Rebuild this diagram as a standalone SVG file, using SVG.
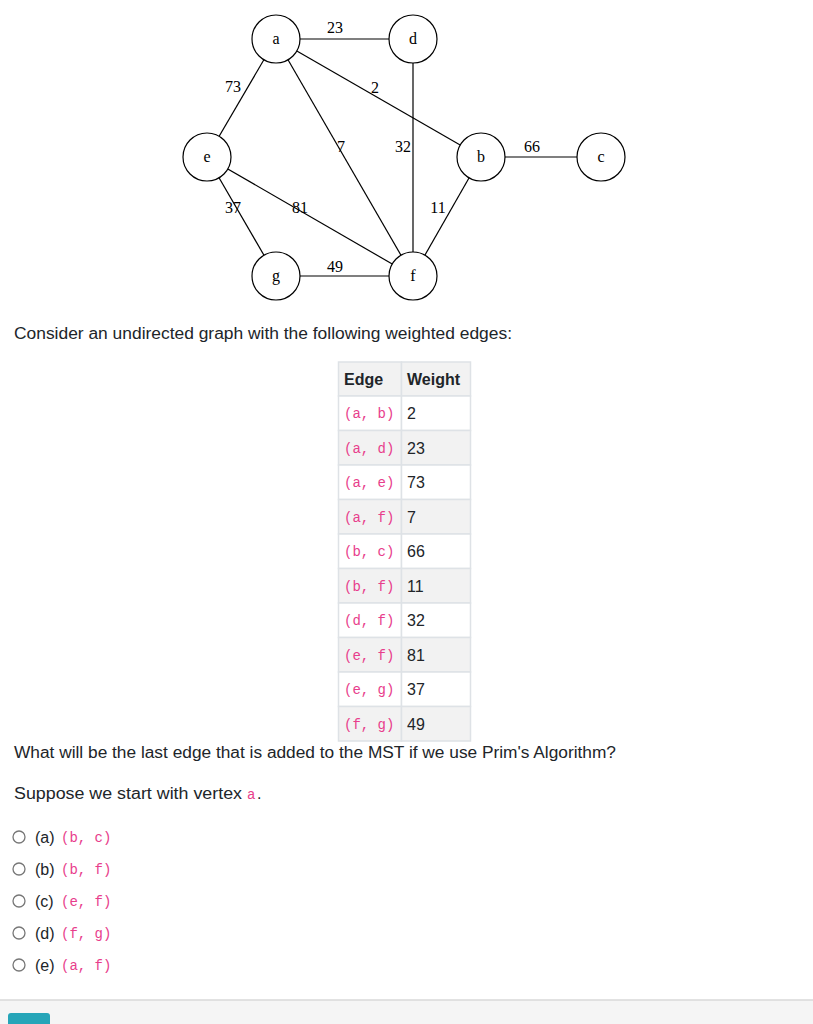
<svg xmlns="http://www.w3.org/2000/svg" width="813" height="1024" viewBox="0 0 813 1024">
<style>
.node circle{fill:#fff;stroke:#000;stroke-width:1.2}
.node text{font-family:"Liberation Serif",serif;font-size:16px;text-anchor:middle}
.edges line{stroke:#000;stroke-width:1.2}
.wl{font-family:"Liberation Serif",serif;font-size:16px;text-anchor:middle}
.body{font-family:"Liberation Sans",Arial,sans-serif;font-size:16px;fill:#212529}
.code{font-family:"Liberation Mono",monospace;font-size:14px;fill:#e83e8c}
.th{font-family:"Liberation Sans",Arial,sans-serif;font-size:16px;font-weight:bold;fill:#212529}
.cell{stroke:#dee2e6;stroke-width:1.5}
.g{fill:#f2f2f2}
.w{fill:#fff}
.radio{fill:#fff;stroke:#777;stroke-width:1.3}
</style>
<rect width="813" height="1024" fill="#fff"/>
<g class="edges">
<line x1="276" y1="39" x2="413" y2="39"/>
<line x1="276" y1="39" x2="207" y2="157"/>
<line x1="276" y1="39" x2="481" y2="157"/>
<line x1="276" y1="39" x2="413" y2="276"/>
<line x1="413" y1="63" x2="413" y2="252"/>
<line x1="207" y1="157" x2="413" y2="276"/>
<line x1="207" y1="157" x2="276" y2="276"/>
<line x1="276" y1="276" x2="413" y2="276"/>
<line x1="481" y1="157" x2="413" y2="276"/>
<line x1="481" y1="157" x2="601" y2="157"/>
</g>
<g class="wl">
<text x="335" y="33">23</text>
<text x="233" y="92">73</text>
<text x="375" y="93">2</text>
<text x="341" y="152">7</text>
<text x="403" y="152">32</text>
<text x="532" y="152">66</text>
<text x="233" y="213">37</text>
<text x="300" y="213">81</text>
<text x="438" y="213">11</text>
<text x="335" y="272">49</text>
</g>
<g id="node-a" class="node"><circle cx="276" cy="39" r="24"/><text x="276" y="44">a</text></g>
<g id="node-d" class="node"><circle cx="413" cy="39" r="24"/><text x="413" y="44">d</text></g>
<g id="node-e" class="node"><circle cx="207" cy="157" r="24"/><text x="207" y="162">e</text></g>
<g id="node-b" class="node"><circle cx="481" cy="157" r="24"/><text x="481" y="162">b</text></g>
<g id="node-c" class="node"><circle cx="601" cy="157" r="24"/><text x="601" y="162">c</text></g>
<g id="node-g" class="node"><circle cx="276" cy="276" r="24"/><text x="276" y="281">g</text></g>
<g id="node-f" class="node"><circle cx="413" cy="276" r="24"/><text x="413" y="281">f</text></g>

<text class="body" x="14" y="339" textLength="498" lengthAdjust="spacingAndGlyphs">Consider an undirected graph with the following weighted edges:</text>

<g id="table">
<rect class="cell g" x="338.5" y="362" width="63" height="34"/>
<rect class="cell g" x="401.5" y="362" width="69" height="34"/>
<text class="th" x="344" y="385">Edge</text>
<text class="th" x="407" y="385">Weight</text>

<rect class="cell w" x="338.5" y="396" width="63" height="34.5"/><rect class="cell w" x="401.5" y="396" width="69" height="34.5"/>
<rect class="cell g" x="338.5" y="430.5" width="63" height="34.5"/><rect class="cell g" x="401.5" y="430.5" width="69" height="34.5"/>
<rect class="cell w" x="338.5" y="465" width="63" height="34.5"/><rect class="cell w" x="401.5" y="465" width="69" height="34.5"/>
<rect class="cell g" x="338.5" y="499.5" width="63" height="34.5"/><rect class="cell g" x="401.5" y="499.5" width="69" height="34.5"/>
<rect class="cell w" x="338.5" y="534" width="63" height="34.5"/><rect class="cell w" x="401.5" y="534" width="69" height="34.5"/>
<rect class="cell g" x="338.5" y="568.5" width="63" height="34.5"/><rect class="cell g" x="401.5" y="568.5" width="69" height="34.5"/>
<rect class="cell w" x="338.5" y="603" width="63" height="34.5"/><rect class="cell w" x="401.5" y="603" width="69" height="34.5"/>
<rect class="cell g" x="338.5" y="637.5" width="63" height="34.5"/><rect class="cell g" x="401.5" y="637.5" width="69" height="34.5"/>
<rect class="cell w" x="338.5" y="672" width="63" height="34.5"/><rect class="cell w" x="401.5" y="672" width="69" height="34.5"/>
<rect class="cell g" x="338.5" y="706.5" width="63" height="34.5"/><rect class="cell g" x="401.5" y="706.5" width="69" height="34.5"/>

<text class="code" x="344" y="418">(a, b)</text><text class="body" x="407" y="419">2</text>
<text class="code" x="344" y="452.5">(a, d)</text><text class="body" x="407" y="453.5">23</text>
<text class="code" x="344" y="487">(a, e)</text><text class="body" x="407" y="488">73</text>
<text class="code" x="344" y="521.5">(a, f)</text><text class="body" x="407" y="522.5">7</text>
<text class="code" x="344" y="556">(b, c)</text><text class="body" x="407" y="557">66</text>
<text class="code" x="344" y="590.5">(b, f)</text><text class="body" x="407" y="591.5">11</text>
<text class="code" x="344" y="625">(d, f)</text><text class="body" x="407" y="626">32</text>
<text class="code" x="344" y="659.5">(e, f)</text><text class="body" x="407" y="660.5">81</text>
<text class="code" x="344" y="694">(e, g)</text><text class="body" x="407" y="695">37</text>
<text class="code" x="344" y="728.5">(f, g)</text><text class="body" x="407" y="729.5">49</text>
</g>

<text class="body" x="14" y="758" textLength="602" lengthAdjust="spacingAndGlyphs">What will be the last edge that is added to the MST if we use Prim's Algorithm?</text>
<text class="body" x="14" y="799" textLength="228" lengthAdjust="spacingAndGlyphs">Suppose we start with vertex</text>
<text class="code" x="247" y="799">a</text>
<text class="body" x="257" y="799">.</text>

<g id="options">
<circle class="radio" cx="19" cy="837" r="6"/><text class="body" x="35" y="843">(a)</text><text class="code" x="61" y="842">(b, c)</text>
<circle class="radio" cx="19" cy="869" r="6"/><text class="body" x="35" y="875">(b)</text><text class="code" x="61" y="874">(b, f)</text>
<circle class="radio" cx="19" cy="901" r="6"/><text class="body" x="35" y="907">(c)</text><text class="code" x="61" y="906">(e, f)</text>
<circle class="radio" cx="19" cy="933" r="6"/><text class="body" x="35" y="939">(d)</text><text class="code" x="61" y="938">(f, g)</text>
<circle class="radio" cx="19" cy="965" r="6"/><text class="body" x="35" y="971">(e)</text><text class="code" x="61" y="970">(a, f)</text>
</g>

<rect x="0" y="1000" width="813" height="24" fill="#f5f5f5"/>
<line x1="0" y1="1000" x2="813" y2="1000" stroke="#d9d9d9" stroke-width="1.5"/>
<rect x="8" y="1013" width="42" height="20" rx="3" fill="#26a5b8"/>
</svg>
